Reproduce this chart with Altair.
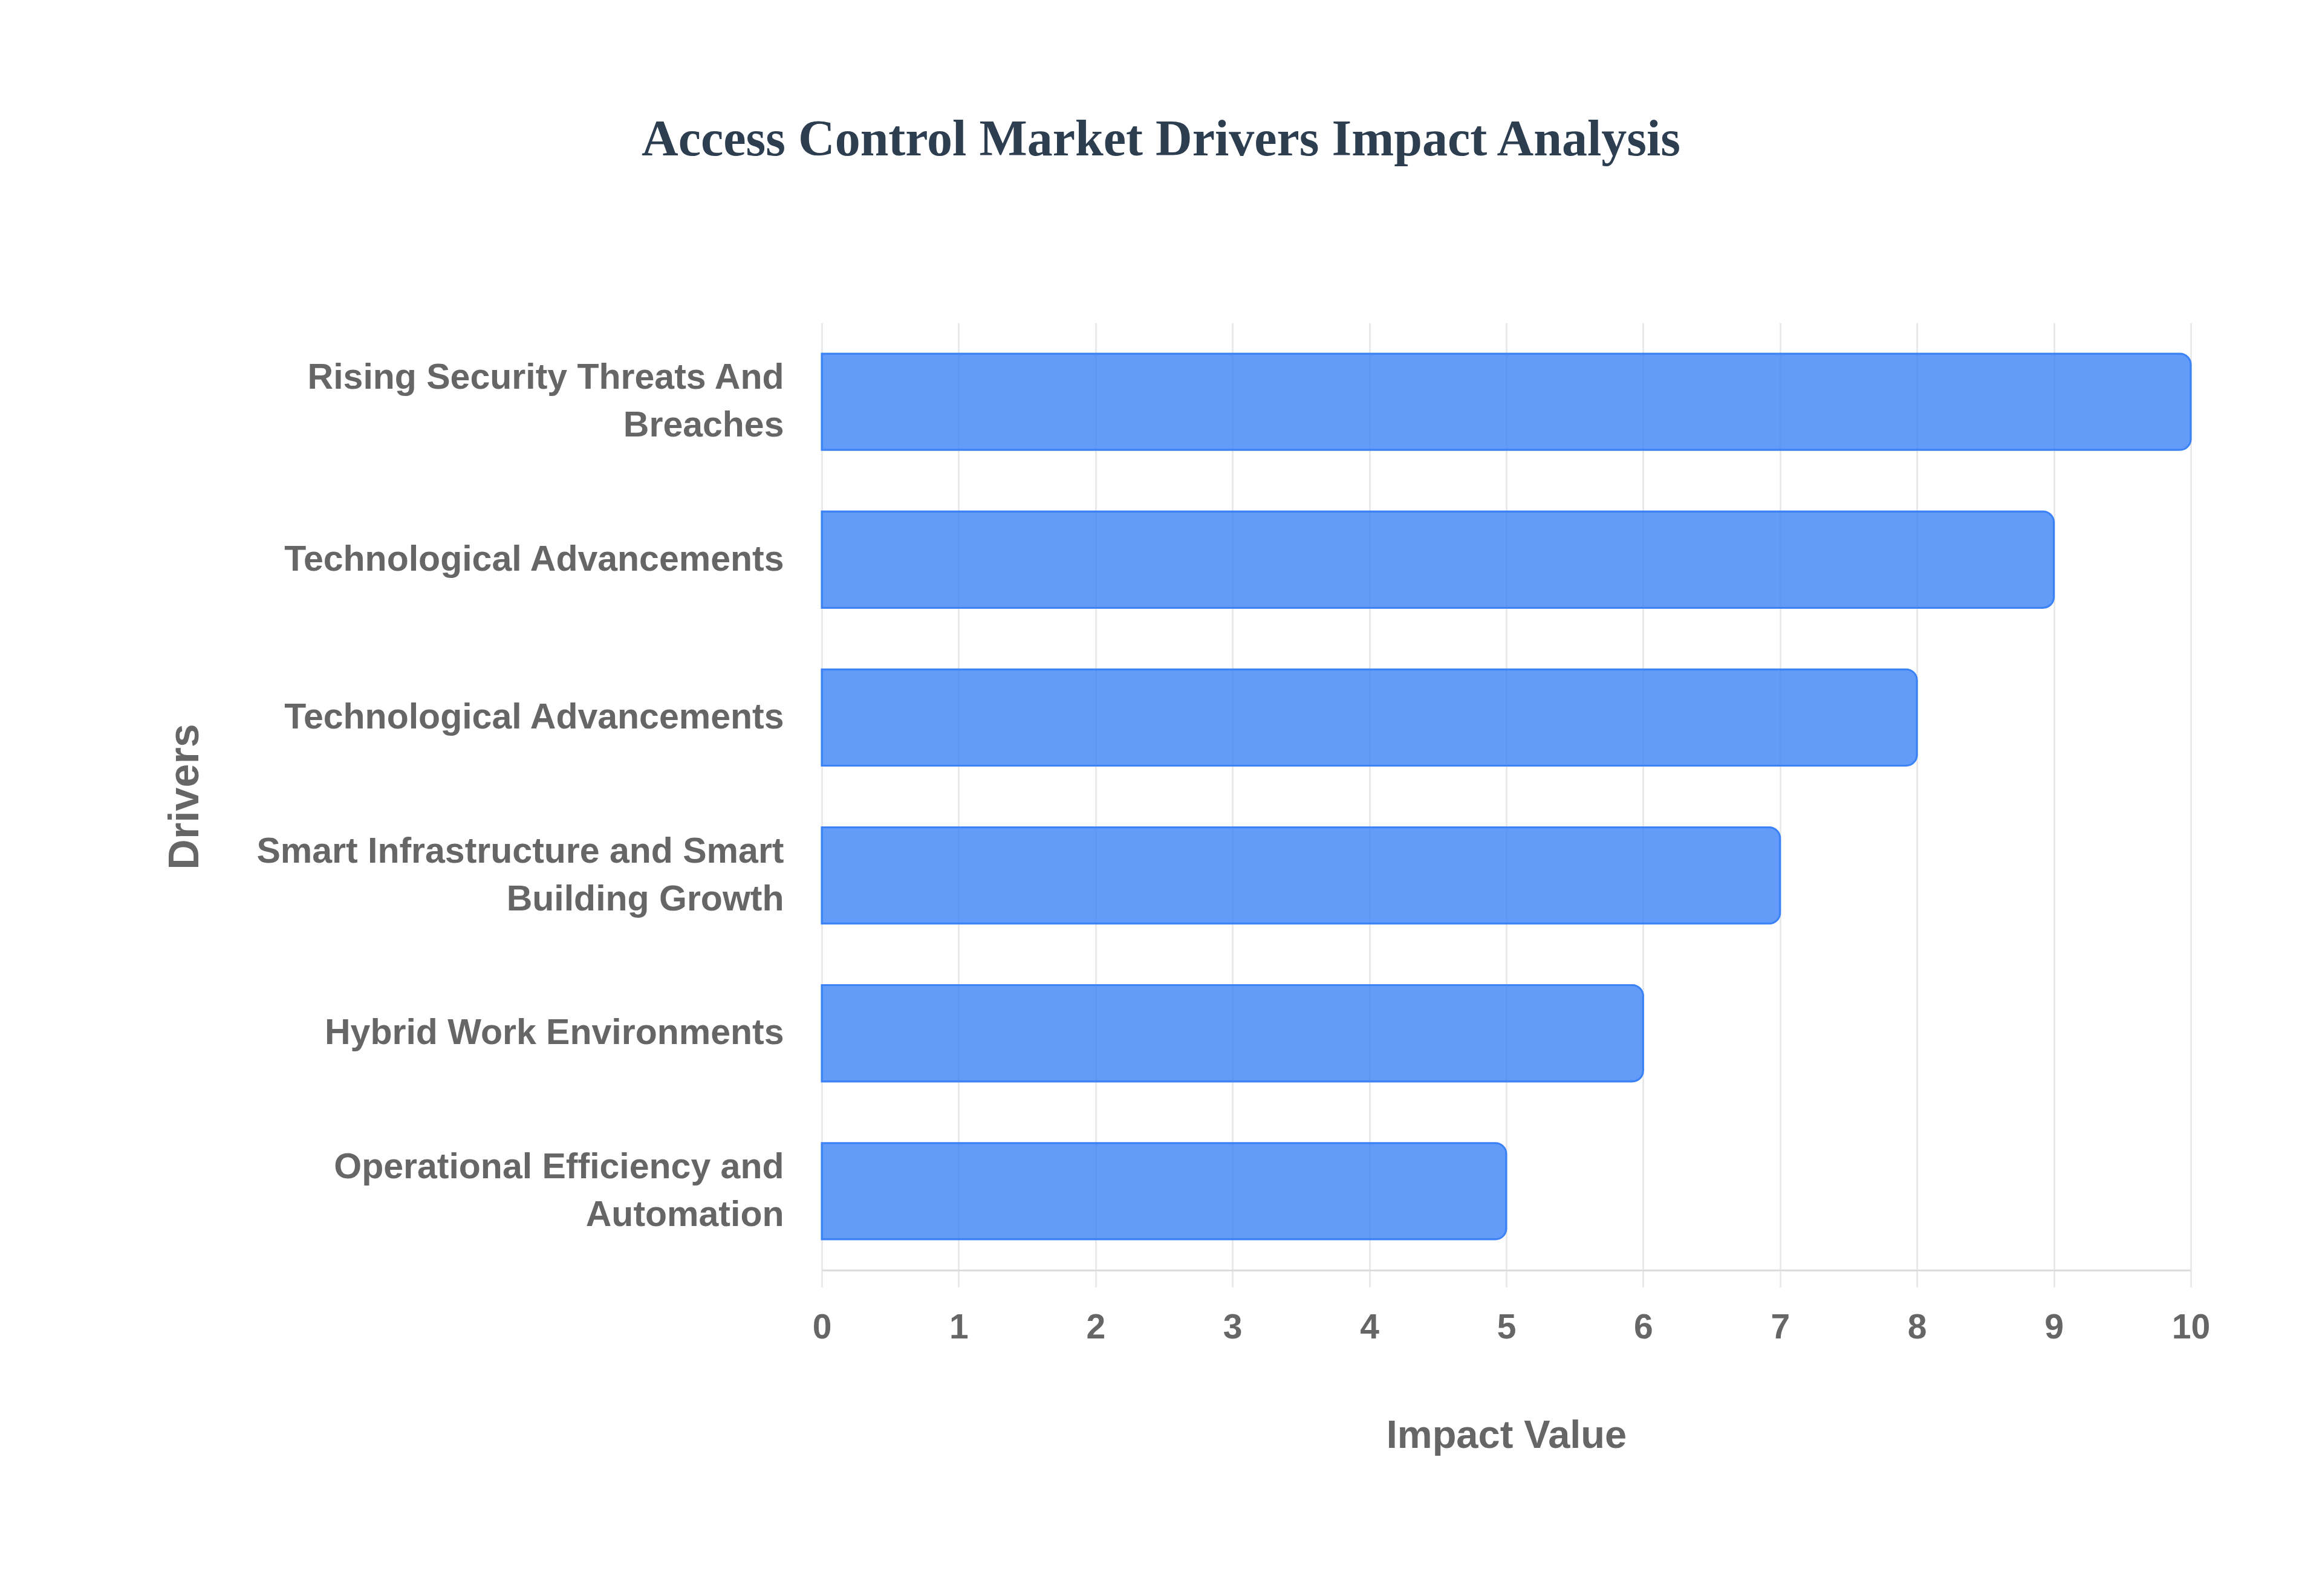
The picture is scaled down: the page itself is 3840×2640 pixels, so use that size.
import json
import altair as alt
import pandas as pd

drivers = [
    ["Rising Security Threats And", "Breaches"],
    ["Technological Advancements"],
    ["Technological Advancements"],
    ["Smart Infrastructure and Smart", "Building Growth"],
    ["Hybrid Work Environments"],
    ["Operational Efficiency and", "Automation"],
]
impact = [10, 9, 8, 7, 6, 5]
x_ticks = [0, 1, 2, 3, 4, 5, 6, 7, 8, 9, 10]

df = pd.DataFrame({
    "idx": list(range(len(drivers))),
    "driver": [" ".join(d) for d in drivers],
    "impact": impact,
})

label_expr = json.dumps(drivers) + "[datum.value]"
LINE_H = 79
multi_idx = [i for i, d in enumerate(drivers) if len(d) > 1]
multi_test = "indexof(" + json.dumps(multi_idx) + ", datum.value) >= 0"

W, H = 2264, 1567
PAD_L, PAD_T = 1351, 526

chart = (
    alt.Chart(df)
    .mark_bar(
        fill="#3b82f6",
        fillOpacity=0.8,
        stroke="#3b82f6",
        strokeWidth=3,
        cornerRadiusEnd=18,
    )
    .encode(
        x=alt.X(
            "impact:Q",
            scale=alt.Scale(domain=[0, 10], nice=False),
            axis=alt.Axis(
                title="Impact Value",
                values=x_ticks,
                format="d",
                labelFlush=False,
                labelFont="Liberation Sans",
                labelFontSize=57,
                labelFontWeight="bold",
                labelColor="#666666",
                labelPadding=39,
                tickSize=28,
                tickColor="#e6e6e6",
                tickWidth=2.5,
                grid=True,
                gridColor="#e6e6e6",
                gridWidth=2.5,
                domainColor="#dcdcdc",
                domainWidth=3,
                titleFont="Liberation Sans",
                titleFontSize=65,
                titleFontWeight="bold",
                titleColor="#666666",
                titleX=W / 2,
                titleY=293,
                titleBaseline="alphabetic",
                titleAlign="center",
            ),
        ),
        y=alt.Y(
            "idx:O",
            sort=None,
            scale=alt.Scale(paddingInner=0.39, paddingOuter=0.195),
            axis=alt.Axis(
                title="Drivers",
                labelExpr=label_expr,
                labelFont="Liberation Sans",
                labelFontSize=59,
                labelFontWeight="bold",
                labelColor="#666666",
                labelLineHeight=LINE_H,
                labelOffset={"condition": {"test": multi_test, "value": -LINE_H / 2}, "value": 0},
                labelPadding=63,
                labelLimit=2000,
                labelAlign="right",
                labelBaseline="middle",
                ticks=False,
                tickSize=0,
                domain=False,
                grid=False,
                titleFont="Liberation Sans",
                titleFontSize=70,
                titleFontWeight="bold",
                titleColor="#666666",
                titleAngle=270,
                titleX=306 - 1359,
                titleY=H / 2,
                titleAlign="center",
                titleBaseline="middle",
            ),
        ),
        tooltip=["driver:N", "impact:Q"],
    )
    .properties(
        width=W,
        height=H,
        title=alt.TitleParams(
            text="Access Control Market Drivers Impact Analysis",
            font="Liberation Serif",
            fontSize=84,
            fontWeight="bold",
            color="#2c3e50",
            anchor="middle",
            frame="group",
            baseline="bottom",
            offset=175,
            dx=1920 - (1359 + W / 2),
        ),
        autosize=alt.AutoSizeParams(type="none"),
        padding={"left": PAD_L, "top": PAD_T, "right": 200, "bottom": 520},
        background="white",
    )
    .configure_view(stroke=None)
)

chart.save("out.html", embed_options={"renderer": "svg", "actions": False})
